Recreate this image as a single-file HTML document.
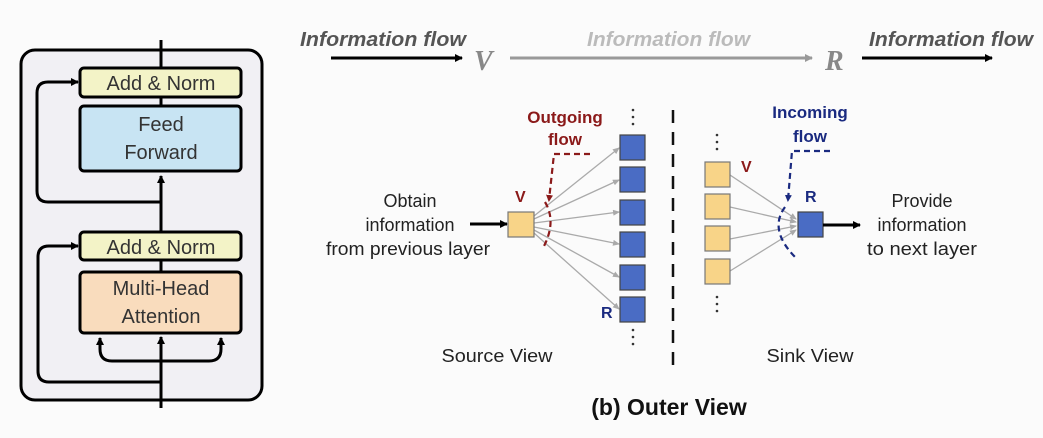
<!DOCTYPE html>
<html><head><meta charset="utf-8"><style>
html,body{margin:0;padding:0;background:#fbfbfb;}
svg{display:block;}
</style></head><body>
<svg width="1043" height="438" viewBox="0 0 1043 438" xmlns="http://www.w3.org/2000/svg">
<defs>
<marker id="ah" markerWidth="8" markerHeight="8" refX="7" refY="4" orient="auto" markerUnits="userSpaceOnUse"><path d="M0,0 L8,4 L0,8 Z" fill="#000"/></marker>
<marker id="ahg" markerWidth="8" markerHeight="8" refX="7" refY="4" orient="auto" markerUnits="userSpaceOnUse"><path d="M0,0 L8,4 L0,8 Z" fill="#999"/></marker>
<marker id="ahs" markerWidth="7" markerHeight="6" refX="6" refY="3" orient="auto" markerUnits="userSpaceOnUse"><path d="M0,0 L7,3 L0,6 Z" fill="#aaa"/></marker>
<marker id="ahr" markerWidth="7" markerHeight="7" refX="5" refY="3.5" orient="auto" markerUnits="userSpaceOnUse"><path d="M0,0 L7,3.5 L0,7 Z" fill="#8b1a1a"/></marker>
<marker id="ahb" markerWidth="7" markerHeight="7" refX="5" refY="3.5" orient="auto" markerUnits="userSpaceOnUse"><path d="M0,0 L7,3.5 L0,7 Z" fill="#1a2a80"/></marker>
</defs>
<rect x="21" y="50" width="241" height="350" rx="14" fill="#f1f0f4" stroke="#000" stroke-width="3"/>
<line x1="161" y1="40" x2="161" y2="69" stroke="#000" stroke-width="3"/>
<line x1="161" y1="97" x2="161" y2="106" stroke="#000" stroke-width="3"/>
<line x1="161" y1="232" x2="161" y2="176" stroke="#000" stroke-width="3" marker-end="url(#ah)"/>
<line x1="161" y1="260" x2="161" y2="272" stroke="#000" stroke-width="3"/>
<line x1="161" y1="408" x2="161" y2="337" stroke="#000" stroke-width="3" marker-end="url(#ah)"/>
<path d="M161,202 H48 Q37,202 37,191 V93 Q37,82 48,82 H78" fill="none" stroke="#000" stroke-width="3" marker-end="url(#ah)"/>
<path d="M161,382 H49 Q38,382 38,371 V257 Q38,246 49,246 H78" fill="none" stroke="#000" stroke-width="3" marker-end="url(#ah)"/>
<path d="M161,361 H112 Q100,361 100,349 V338" fill="none" stroke="#000" stroke-width="3" marker-end="url(#ah)"/>
<path d="M161,361 H209 Q221,361 221,349 V338" fill="none" stroke="#000" stroke-width="3" marker-end="url(#ah)"/>
<rect x="80" y="68" width="161" height="29" rx="4" fill="#f3f3c7" stroke="#000" stroke-width="3"/>
<rect x="80" y="106" width="161" height="65" rx="4" fill="#c8e4f3" stroke="#000" stroke-width="3"/>
<rect x="80" y="232" width="161" height="28" rx="4" fill="#f3f3c7" stroke="#000" stroke-width="3"/>
<rect x="80" y="272" width="161" height="61" rx="4" fill="#f9dcbd" stroke="#000" stroke-width="3"/>
<g font-family="Liberation Sans, sans-serif" font-size="20" fill="#333" text-anchor="middle">
<text x="161" y="90">Add &amp; Norm</text>
<text x="161" y="131">Feed</text>
<text x="161" y="159">Forward</text>
<text x="161" y="254">Add &amp; Norm</text>
<text x="161" y="295">Multi-Head</text>
<text x="161" y="323">Attention</text>
</g>
<g font-family="Liberation Sans, sans-serif" font-size="20" font-weight="bold" font-style="italic">
<text x="300" y="46" fill="#555" textLength="166" lengthAdjust="spacingAndGlyphs">Information flow</text>
<text x="587" y="46" fill="#bbb" textLength="163" lengthAdjust="spacingAndGlyphs">Information flow</text>
<text x="869" y="46" fill="#555" textLength="164" lengthAdjust="spacingAndGlyphs">Information flow</text>
</g>
<line x1="331" y1="58" x2="462" y2="58" stroke="#000" stroke-width="3" marker-end="url(#ah)"/>
<line x1="510" y1="58" x2="812" y2="58" stroke="#999" stroke-width="3" marker-end="url(#ahg)"/>
<line x1="862" y1="58" x2="992" y2="58" stroke="#000" stroke-width="3" marker-end="url(#ah)"/>
<g font-family="Liberation Serif, serif" font-size="28" font-weight="bold" font-style="italic" fill="#888">
<text x="474" y="70">V</text><text x="825" y="70">R</text>
</g>
<g font-family="Liberation Sans, sans-serif" font-size="18" fill="#222" text-anchor="middle">
<text x="410" y="207">Obtain</text>
<text x="410" y="231">information</text>
<text x="408" y="255" textLength="164" lengthAdjust="spacingAndGlyphs">from previous layer</text>
<text x="922" y="207">Provide</text>
<text x="922" y="231">information</text>
<text x="922" y="255" textLength="110" lengthAdjust="spacingAndGlyphs">to next layer</text>
<text x="497" y="362" textLength="111" lengthAdjust="spacingAndGlyphs">Source View</text>
<text x="810" y="362" textLength="87" lengthAdjust="spacingAndGlyphs">Sink View</text>
</g>
<line x1="470" y1="224" x2="507" y2="224" stroke="#000" stroke-width="3" marker-end="url(#ah)"/>
<g stroke="#aaa" stroke-width="1.3" marker-end="url(#ahs)">
<line x1="534" y1="216" x2="619" y2="148"/>
<line x1="534" y1="219" x2="619" y2="180"/>
<line x1="534" y1="223" x2="619" y2="212"/>
<line x1="534" y1="227" x2="619" y2="244"/>
<line x1="534" y1="230" x2="619" y2="277"/>
<line x1="534" y1="233" x2="619" y2="309"/>
<line x1="730" y1="175" x2="796" y2="219"/>
<line x1="730" y1="207" x2="796" y2="222"/>
<line x1="730" y1="239" x2="796" y2="226"/>
<line x1="730" y1="271" x2="796" y2="230"/>
</g>
<rect x="508" y="212" width="26" height="25" fill="#f8d488" stroke="#777" stroke-width="1.2"/>
<g fill="#4a6cc4" stroke="#444" stroke-width="1.2">
<rect x="620" y="135" width="25" height="25"/><rect x="620" y="167" width="25" height="25"/>
<rect x="620" y="200" width="25" height="25"/><rect x="620" y="232" width="25" height="25"/>
<rect x="620" y="265" width="25" height="25"/><rect x="620" y="297" width="25" height="25"/>
<rect x="798" y="212" width="25" height="25"/>
</g>
<g fill="#f8d488" stroke="#777" stroke-width="1.2">
<rect x="705" y="162" width="25" height="25"/><rect x="705" y="194" width="25" height="25"/>
<rect x="705" y="226" width="25" height="25"/><rect x="705" y="259" width="25" height="25"/>
</g>
<line x1="823" y1="225" x2="860" y2="225" stroke="#000" stroke-width="3" marker-end="url(#ah)"/>
<g fill="#333">
<circle cx="633" cy="110" r="1.3"/><circle cx="633" cy="117" r="1.3"/><circle cx="633" cy="124" r="1.3"/>
<circle cx="633" cy="330" r="1.3"/><circle cx="633" cy="337" r="1.3"/><circle cx="633" cy="344" r="1.3"/>
<circle cx="717" cy="135" r="1.3"/><circle cx="717" cy="142" r="1.3"/><circle cx="717" cy="149" r="1.3"/>
<circle cx="717" cy="297" r="1.3"/><circle cx="717" cy="304" r="1.3"/><circle cx="717" cy="311" r="1.3"/>
</g>
<line x1="673" y1="110" x2="673" y2="372" stroke="#111" stroke-width="2.5" stroke-dasharray="13,9"/>
<g font-family="Liberation Sans, sans-serif" font-weight="bold" font-size="16">
<text x="515" y="202" fill="#8b1a1a">V</text>
<text x="741" y="172" fill="#8b1a1a">V</text>
<text x="601" y="318" fill="#1a2a80">R</text>
<text x="805" y="202" fill="#1a2a80">R</text>
</g>
<g font-family="Liberation Sans, sans-serif" font-weight="bold" font-size="17" text-anchor="middle">
<text x="565" y="123" fill="#8b1a1a">Outgoing</text>
<text x="565" y="145" fill="#8b1a1a">flow</text>
<text x="810" y="118" fill="#1a2a80">Incoming</text>
<text x="810" y="142" fill="#1a2a80">flow</text>
</g>
<path d="M590,154 H554 L549,200" fill="none" stroke="#8b1a1a" stroke-width="2.2" stroke-dasharray="6,4" marker-end="url(#ahr)"/>
<path d="M545,202 Q557,222 543,248" fill="none" stroke="#8b1a1a" stroke-width="2.2" stroke-dasharray="6,4"/>
<path d="M830,151 H792 L788,200" fill="none" stroke="#1a2a80" stroke-width="2.2" stroke-dasharray="6,4" marker-end="url(#ahb)"/>
<path d="M785,207 Q768,230 796,258" fill="none" stroke="#1a2a80" stroke-width="2.2" stroke-dasharray="6,4"/>
<text x="669" y="415" font-family="Liberation Sans, sans-serif" font-weight="bold" font-size="23" fill="#111" text-anchor="middle">(b) Outer View</text>
</svg>
</body></html>
